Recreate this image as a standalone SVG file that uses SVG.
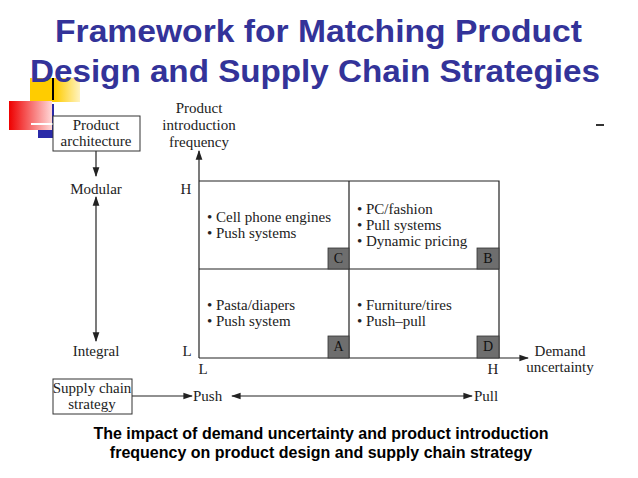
<svg xmlns="http://www.w3.org/2000/svg" width="638" height="478" viewBox="0 0 638 478">
<defs>
<style>
.t{font-family:"Liberation Serif",serif;font-size:15px;fill:#222}
.ti{font-family:"Liberation Sans",sans-serif;font-weight:bold;font-size:31px;fill:#333399}
.cap{font-family:"Liberation Sans",sans-serif;font-weight:bold;font-size:16px;fill:#000}
.ln{stroke:#222;stroke-width:1.2;fill:none}
.g{fill:#6e6e6e;stroke:#333;stroke-width:0.8}
.gl{font-family:"Liberation Serif",serif;font-size:14px;fill:#111}
</style>
<marker id="a" viewBox="0 0 10 10" refX="9" refY="5" markerWidth="8" markerHeight="8" orient="auto-start-reverse"><path d="M0,1.5L10,5L0,8.5z" fill="#222"/></marker>
<linearGradient id="yg" x1="0" x2="1"><stop offset="0" stop-color="#ffcc00"/><stop offset="0.5" stop-color="#ffcc00"/><stop offset="1" stop-color="#fff3c0"/></linearGradient>
<linearGradient id="rg" x1="0" x2="1"><stop offset="0" stop-color="#ee0000"/><stop offset="1" stop-color="#ffd8d8"/></linearGradient>
</defs>
<rect width="638" height="478" fill="#fff"/>
<g id="decor">
<rect x="30" y="78" width="50" height="24" fill="url(#yg)"/>
<rect x="38" y="104" width="16" height="34" fill="#2a2aa8"/>
<rect x="9" y="101" width="43" height="29" fill="url(#rg)"/>
<line x1="53" y1="78" x2="53" y2="100" stroke="#000" stroke-width="2"/>
<line x1="31" y1="124" x2="53" y2="124" stroke="#fff" stroke-width="2"/>
<line x1="596" y1="125" x2="604" y2="125" stroke="#333" stroke-width="2"/>
</g>
<g id="title">
<text class="ti" x="55" y="42" textLength="527" lengthAdjust="spacingAndGlyphs">Framework for Matching Product</text>
<text class="ti" x="30" y="82" textLength="570" lengthAdjust="spacingAndGlyphs">Design and Supply Chain Strategies</text>
</g>
<g id="connectors">
<line class="ln" x1="96" y1="151" x2="96" y2="176" marker-end="url(#a)"/>
<line class="ln" x1="96" y1="197" x2="96" y2="341" marker-start="url(#a)" marker-end="url(#a)"/>
<line class="ln" x1="199" y1="358" x2="199" y2="151" marker-end="url(#a)"/>
<line class="ln" x1="199" y1="358" x2="528" y2="358" marker-end="url(#a)"/>
<line class="ln" x1="132" y1="396" x2="192" y2="396" marker-end="url(#a)"/>
<line class="ln" x1="232" y1="396" x2="472" y2="396" marker-start="url(#a)" marker-end="url(#a)"/>
</g>
<g id="grid">
<path class="ln" d="M199,181H499V358M349,181V358M199,269H499"/>
</g>
<g id="nodeProductArchitecture">
<rect x="53" y="116" width="87" height="35" fill="#fff" stroke="#333"/>
<text class="t" x="96" y="130" text-anchor="middle">Product</text>
<text class="t" x="96" y="146" text-anchor="middle">architecture</text>
</g>
<g id="nodeFreq">
<text class="t" x="199" y="113" text-anchor="middle">Product</text>
<text class="t" x="199" y="130" text-anchor="middle">introduction</text>
<text class="t" x="199" y="147" text-anchor="middle">frequency</text>
</g>
<g id="labels">
<text class="t" x="96" y="194" text-anchor="middle">Modular</text>
<text class="t" x="96" y="356" text-anchor="middle">Integral</text>
<text class="t" x="186" y="194" text-anchor="middle">H</text>
<text class="t" x="187" y="356" text-anchor="middle">L</text>
<text class="t" x="203" y="374" text-anchor="middle">L</text>
<text class="t" x="493" y="374" text-anchor="middle">H</text>
<text class="t" x="560" y="356" text-anchor="middle">Demand</text>
<text class="t" x="560" y="372" text-anchor="middle">uncertainty</text>
<text class="t" x="193" y="401">Push</text>
<text class="t" x="474" y="401">Pull</text>
</g>
<g id="nodeSupplyChain">
<rect x="53" y="379" width="79" height="35" fill="#fff" stroke="#333"/>
<text class="t" x="92" y="393" text-anchor="middle">Supply chain</text>
<text class="t" x="92" y="409" text-anchor="middle">strategy</text>
</g>
<g id="cellC">
<text class="t" x="207" y="222">• Cell phone engines</text>
<text class="t" x="207" y="238">• Push systems</text>
<rect class="g" x="328" y="248" width="21" height="21"/>
<text class="gl" x="338.5" y="263" text-anchor="middle">C</text>
</g>
<g id="cellB">
<text class="t" x="357" y="214">• PC/fashion</text>
<text class="t" x="357" y="230">• Pull systems</text>
<text class="t" x="357" y="246">• Dynamic pricing</text>
<rect class="g" x="477" y="248" width="22" height="21"/>
<text class="gl" x="488" y="263" text-anchor="middle">B</text>
</g>
<g id="cellA">
<text class="t" x="207" y="310">• Pasta/diapers</text>
<text class="t" x="207" y="326">• Push system</text>
<rect class="g" x="328" y="336" width="21" height="22"/>
<text class="gl" x="338.5" y="351" text-anchor="middle">A</text>
</g>
<g id="cellD">
<text class="t" x="357" y="310">• Furniture/tires</text>
<text class="t" x="357" y="326">• Push–pull</text>
<rect class="g" x="477" y="336" width="22" height="22"/>
<text class="gl" x="488" y="351" text-anchor="middle">D</text>
</g>
<g id="caption">
<text class="cap" x="321" y="439" text-anchor="middle">The impact of demand uncertainty and product introduction</text>
<text class="cap" x="321" y="458" text-anchor="middle">frequency on product design and supply chain strategy</text>
</g>
</svg>
